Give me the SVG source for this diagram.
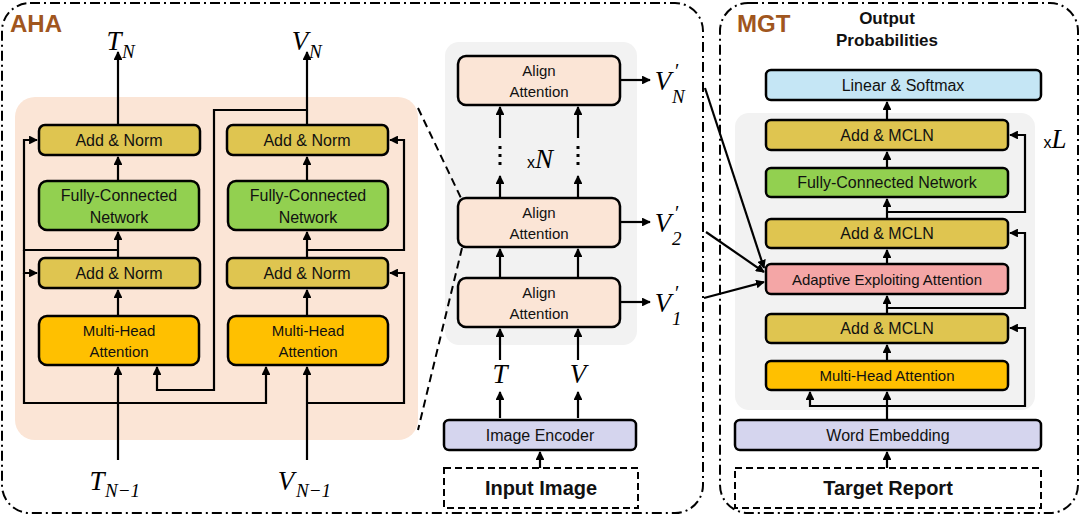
<svg xmlns="http://www.w3.org/2000/svg" width="1083" height="520" viewBox="0 0 1083 520">
<defs>
<marker id="a" viewBox="0 0 10 10" refX="9" refY="5" markerWidth="4" markerHeight="4" orient="auto"><path d="M0,0L10,5L0,10z" fill="#000"/></marker>
<style>
.b{stroke:#000;stroke-width:2.5}
.t{font-family:"Liberation Sans",Arial,sans-serif;font-size:16px;text-anchor:middle;fill:#111}
.s{font-size:15px}
.bd{font-size:20px;font-weight:bold}
.m{font-family:"Liberation Serif","DejaVu Serif",serif;font-style:italic;font-size:27px;text-anchor:middle}
.sub{font-family:"Liberation Serif","DejaVu Serif",serif;font-style:italic;font-size:19px}
.pr{font-family:"Liberation Serif","DejaVu Serif",serif;font-size:20px}
.ar{fill:none;stroke:#000;stroke-width:2.2;marker-end:url(#a)}
.an{fill:#dfc550}.fc{fill:#92d050}.mh{fill:#ffc000}.al{fill:#fbe5d6}
</style>
</defs>
<rect width="1083" height="520" fill="#fff"/>
<g id="panels">
<rect x="2" y="3" width="701" height="510" rx="28" fill="none" stroke="#000" stroke-width="2" stroke-dasharray="10,4,2,4"/>
<rect x="720" y="3" width="358" height="510" rx="28" fill="none" stroke="#000" stroke-width="2" stroke-dasharray="10,4,2,4"/>
<text x="10" y="32" font-family="Liberation Sans,Arial,sans-serif" font-weight="bold" font-size="24" fill="#a0561e">AHA</text>
<text x="737" y="32" font-family="Liberation Sans,Arial,sans-serif" font-weight="bold" font-size="24" fill="#a0561e">MGT</text>
<rect x="15" y="97" width="403" height="343" rx="20" fill="#fbe5d6"/>
<rect x="445" y="42" width="192" height="303" rx="14" fill="#f2f2f2"/>
<rect x="735" y="113" width="300" height="297" rx="14" fill="#f2f2f2"/>
<path d="M418,108L461,198M462,248L418,430" fill="none" stroke="#000" stroke-width="2" stroke-dasharray="8,5"/>
</g>
<g id="connectors">
<path class="ar" d="M118,125V52"/><path class="ar" d="M307,125V52"/>
<path class="ar" d="M118,181V157"/><path class="ar" d="M118,258V232"/><path class="ar" d="M118,316V290"/><path class="ar" d="M118,460V367"/>
<path class="ar" d="M307,181V157"/><path class="ar" d="M307,258V232"/><path class="ar" d="M307,316V290"/><path class="ar" d="M307,460V367"/>
<path class="ar" d="M118,250H24V140H37"/><path class="ar" d="M24,250V273H37"/>
<path class="ar" d="M24,273V403H266V367"/>
<path class="ar" d="M307,250H404V140H390"/><path class="ar" d="M307,403H404V273H390"/>
<path class="ar" d="M307,110H214V390H157V367"/>
<path class="ar" d="M500,278V249"/><path class="ar" d="M578,278V249"/>
<path class="ar" d="M500,198V176"/><path class="ar" d="M578,198V176"/>
<path class="ar" d="M500,138V107"/><path class="ar" d="M578,138V107"/>
<path d="M500,146V166M578,146V166" stroke="#000" stroke-width="3" stroke-dasharray="3,5"/>
<path class="ar" d="M500,418V392"/><path class="ar" d="M578,418V392"/>
<path class="ar" d="M500,360V329"/><path class="ar" d="M578,360V329"/>
<path class="ar" d="M540,468V452"/>
<path class="ar" d="M620,80H650"/><path class="ar" d="M620,222H650"/><path class="ar" d="M620,302H650"/>
<path class="ar" d="M705,88L764,268"/><path class="ar" d="M706,232L764,272"/><path class="ar" d="M704,298L764,282"/>
<path class="ar" d="M887,468V452"/><path class="ar" d="M887,420V392"/><path class="ar" d="M887,361V345"/>
<path class="ar" d="M887,314V296"/><path class="ar" d="M887,264V250"/><path class="ar" d="M887,219V199"/>
<path class="ar" d="M887,168V152"/><path class="ar" d="M887,120V102"/>
<path class="ar" d="M887,406H810V392"/><path class="ar" d="M887,406H1025V328H1010"/>
<path class="ar" d="M887,308H1025V233H1010"/><path class="ar" d="M887,212H1025V135H1010"/>
</g>
<g id="aha-left">
<rect class="b an" x="39" y="125" width="161" height="30" rx="6"/><text class="t" x="119" y="146">Add &amp; Norm</text>
<rect class="b fc" x="39" y="181" width="160" height="49" rx="8"/><text class="t" x="119" y="201">Fully-Connected</text><text class="t" x="119" y="223">Network</text>
<rect class="b an" x="39" y="258" width="161" height="30" rx="6"/><text class="t" x="119" y="279">Add &amp; Norm</text>
<rect class="b mh" x="39" y="316" width="160" height="49" rx="8"/><text class="t s" x="119" y="336">Multi-Head</text><text class="t s" x="119" y="357">Attention</text>
</g>
<g id="aha-right">
<rect class="b an" x="227" y="125" width="161" height="30" rx="6"/><text class="t" x="307" y="146">Add &amp; Norm</text>
<rect class="b fc" x="228" y="181" width="160" height="49" rx="8"/><text class="t" x="308" y="201">Fully-Connected</text><text class="t" x="308" y="223">Network</text>
<rect class="b an" x="227" y="258" width="161" height="30" rx="6"/><text class="t" x="307" y="279">Add &amp; Norm</text>
<rect class="b mh" x="228" y="316" width="160" height="49" rx="8"/><text class="t s" x="308" y="336">Multi-Head</text><text class="t s" x="308" y="357">Attention</text>
</g>
<g id="labels">
<text class="m" x="114" y="50">T</text><text class="sub" x="122" y="58">N</text>
<text class="m" x="300" y="50">V</text><text class="sub" x="309" y="58">N</text>
<text class="m" x="97" y="490">T</text><text class="sub" x="105" y="497">N−1</text>
<text class="m" x="286" y="490">V</text><text class="sub" x="296" y="497">N−1</text>
<text class="m" x="500" y="383">T</text><text class="m" x="578" y="383">V</text>
<text class="m" x="540" y="168"><tspan font-style="normal" font-family="Liberation Sans,Arial,sans-serif" font-size="16">x</tspan>N</text>
<text class="m" x="663" y="90">V</text><text class="pr" x="675" y="78">′</text><text class="sub" x="672" y="103">N</text>
<text class="m" x="663" y="232">V</text><text class="pr" x="675" y="220">′</text><text class="sub" x="672" y="245">2</text>
<text class="m" x="663" y="312">V</text><text class="pr" x="675" y="300">′</text><text class="sub" x="672" y="325">1</text>
<text class="m" x="1055" y="148"><tspan font-style="normal" font-family="Liberation Sans,Arial,sans-serif" font-size="16">x</tspan>L</text>
<text class="t" x="887" y="24" font-weight="bold" font-size="17" style="font-size:17px">Output</text>
<text class="t" x="887" y="46" font-weight="bold" style="font-size:17px">Probabilities</text>
</g>
<g id="align">
<rect class="b al" x="458" y="56" width="162" height="49" rx="8"/><text class="t s" x="539" y="76">Align</text><text class="t s" x="539" y="97">Attention</text>
<rect class="b al" x="458" y="198" width="162" height="49" rx="8"/><text class="t s" x="539" y="218">Align</text><text class="t s" x="539" y="239">Attention</text>
<rect class="b al" x="458" y="278" width="162" height="49" rx="8"/><text class="t s" x="539" y="298">Align</text><text class="t s" x="539" y="319">Attention</text>
</g>
<g id="encoder">
<rect class="b" fill="#d5d5ee" x="444" y="420" width="192" height="30" rx="5"/><text class="t" x="540" y="441">Image Encoder</text>
<rect x="444" y="468" width="194" height="40" fill="#fff" stroke="#000" stroke-width="2" stroke-dasharray="7,4"/><text class="t bd" x="541" y="495">Input Image</text>
</g>
<g id="mgt">
<rect class="b" fill="#c5e6f5" x="766" y="70" width="275" height="30" rx="5"/><text class="t" x="903" y="91">Linear &amp; Softmax</text>
<rect class="b an" x="766" y="120" width="242" height="30" rx="5"/><text class="t" x="887" y="141">Add &amp; MCLN</text>
<rect class="b fc" x="766" y="168" width="242" height="29" rx="5"/><text class="t" x="887" y="188">Fully-Connected Network</text>
<rect class="b an" x="766" y="219" width="242" height="29" rx="5"/><text class="t" x="887" y="239">Add &amp; MCLN</text>
<rect class="b" fill="#f4a6a6" x="766" y="264" width="242" height="30" rx="5"/><text class="t s" x="887" y="285">Adaptive Exploiting Attention</text>
<rect class="b an" x="766" y="314" width="242" height="29" rx="5"/><text class="t" x="887" y="334">Add &amp; MCLN</text>
<rect class="b mh" x="766" y="361" width="242" height="29" rx="5"/><text class="t s" x="887" y="381">Multi-Head Attention</text>
<rect class="b" fill="#d5d5ee" x="735" y="420" width="306" height="30" rx="5"/><text class="t" x="888" y="441">Word Embedding</text>
<rect x="735" y="468" width="306" height="40" fill="#fff" stroke="#000" stroke-width="2" stroke-dasharray="7,4"/><text class="t bd" x="888" y="495">Target Report</text>
</g>
</svg>
